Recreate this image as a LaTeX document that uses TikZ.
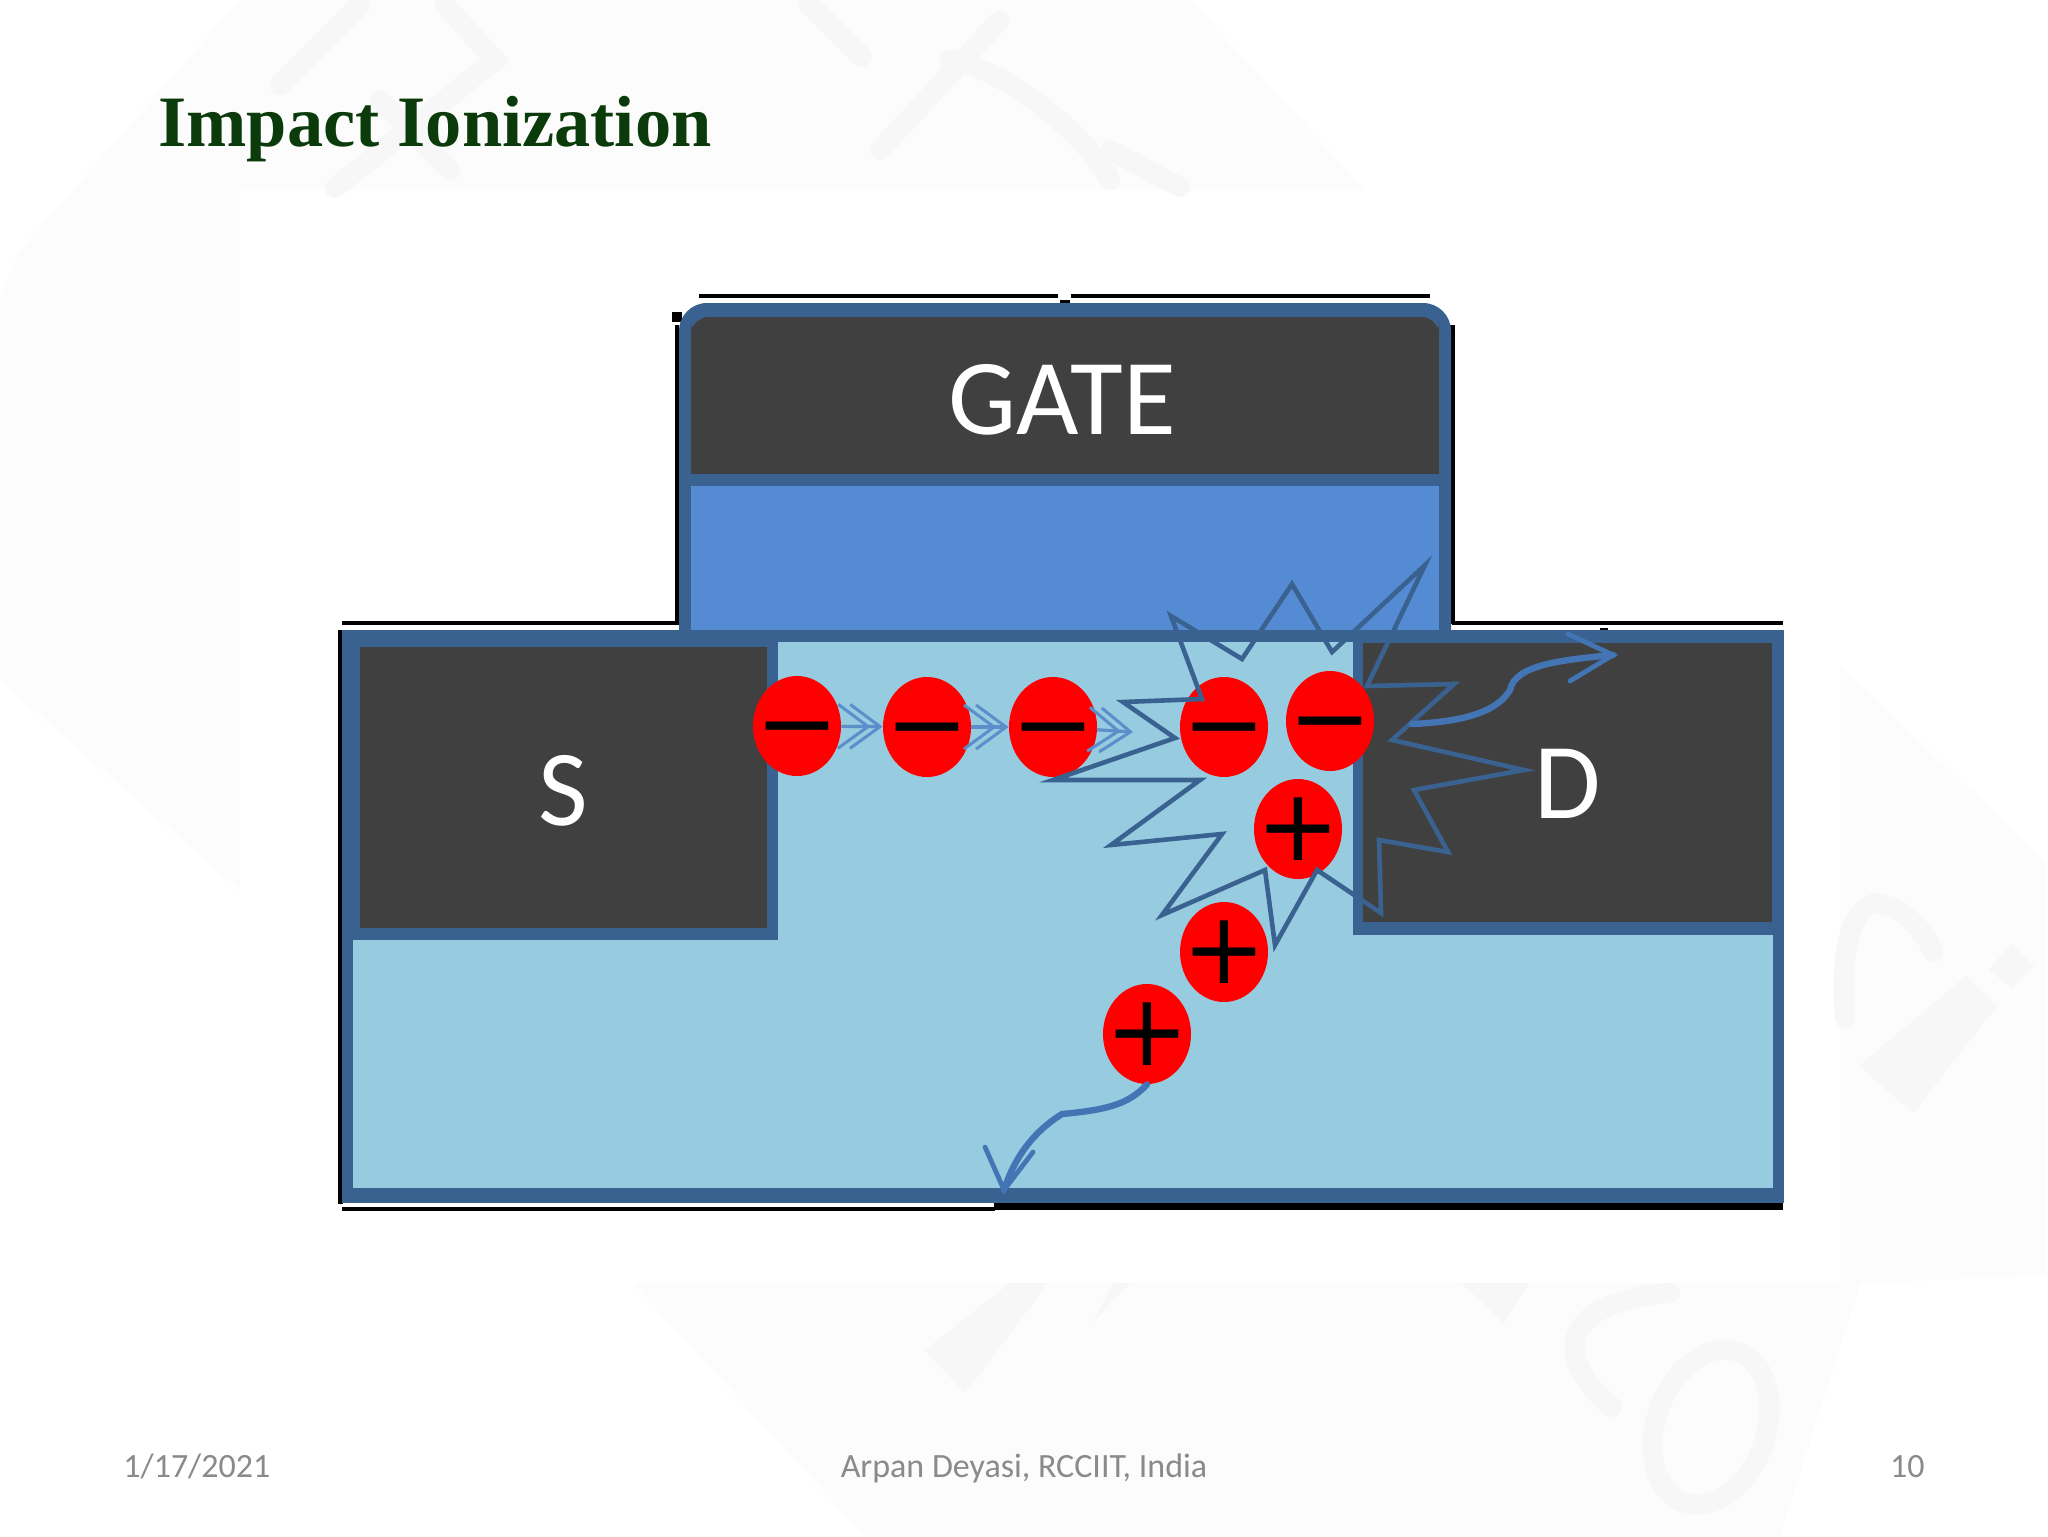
\documentclass[tikz,border=0pt]{standalone}
\usepackage{fontspec}
\usetikzlibrary{shapes.geometric,arrows.meta}
\setmainfont{Carlito}
\newfontfamily\titlefont{Liberation Serif}
\newfontfamily\signfont{DejaVu Sans}
\definecolor{edgeblue}{HTML}{3A6291}
\definecolor{darkfill}{HTML}{404040}
\definecolor{oxidefill}{HTML}{548BD3}
\definecolor{siliconfill}{HTML}{97CBDF}
\definecolor{arrowblue}{HTML}{4375B5}
\definecolor{chevblue}{HTML}{5B8FCB}
\definecolor{titlegreen}{HTML}{0B3A0B}
\definecolor{footgray}{HTML}{8A8A8A}
\definecolor{wmband}{HTML}{FDFCFD}
\definecolor{wmink}{HTML}{F7F7F7}
\newcommand{\chargesign}[1]{{\signfont\fontsize{50pt}{50pt}\selectfont\makebox[0pt]{\smash{\raisebox{-.3135em}{#1}}}}}
\tikzset{
  carrier/.style={ellipse,fill=red,draw=none,inner sep=0pt,minimum width=44pt,minimum height=50pt,text=black},
  regionlabel/.style={text=white,font=\fontsize{54pt}{54pt}\selectfont,inner sep=0pt,anchor=center},
  footer/.style={text=footgray,font=\fontsize{17pt}{17pt}\selectfont,inner sep=0pt},
  chev/.style={chevblue,line width=1.6pt,-{Straight Barb[length=15pt,width=22pt,line width=1.5pt,sep=-11pt] Straight Barb[length=15pt,width=22pt,line width=1.5pt]}},
  wavearrow/.style={arrowblue,line width=3.2pt,line cap=round},
  barb/.style={arrowblue,line width=2.4pt,line cap=round,line join=miter},
  wm/.style={wmink,line width=10pt,line cap=round},
  outline/.style={black,line width=2pt},
  burst/.style={edgeblue,line width=2.3pt,line join=miter}
}
\begin{document}
\begin{tikzpicture}[x=0.5pt,y=-0.5pt]
\useasboundingbox (0,0) rectangle (2048,1536);
\fill[white] (0,0) rectangle (2048,1536);
% watermark band
\fill[wmband] (240,0) -- (1190,0) -- (1365,190) -- (240,190) -- (18,253) -- cycle;
\fill[wmband] (18,253) -- (240,190) -- (240,890) -- (0,680) -- (0,300) -- cycle;
\fill[wmband] (633,1283) -- (1840,1283) -- (1840,665) -- (2046,863) -- (2046,1275) -- (1860,1283) -- (1780,1536) -- (865,1536) -- cycle;
% watermark strokes
\draw[wm] (280,85) -- (360,5);
\draw[wm] (335,188) -- (495,60) -- (445,5);
\draw[wm] (380,100) -- (450,170);
\draw[wm] (808,3) -- (862,57);
\draw[wm] (1000,20) -- (880,150);
\draw[wm] (950,60) .. controls (1010,70) and (1090,140) .. (1110,180);
\draw[wm] (1110,150) -- (1180,187);
\fill[wmink] (1859,1066) -- (1966,976) -- (1997,1006) -- (1913,1113) -- cycle;
\fill[wmink] (1989,970) -- (2011,943) -- (2034,966) -- (2012,988) -- cycle;
\draw[wm] (1845,1018) .. controls (1840,950) and (1850,910) .. (1876,903) .. controls (1900,905) and (1925,930) .. (1933,952);
\draw[wm] (1670,1293) .. controls (1570,1300) and (1545,1350) .. (1612,1407);
\draw[wm,rotate around={-20:(1711,1427)}] (1711,1427) ellipse [x radius=55,y radius=80];
\fill[wmink] (1048,1283) -- (1010,1283) -- (925,1350) -- (965,1393) -- cycle;
\fill[wmink] (1114,1283) -- (1130,1283) -- (1092,1323) -- cycle;
\fill[wmink] (1462,1283) -- (1504,1323) -- (1529,1283) -- cycle;
% black outline traces
\draw[outline] (342,623) -- (677,623) -- (677,325);
\draw[outline] (699,296) -- (1058,296);
\draw[outline] (1071,296) -- (1430,296);
\draw[black,line width=3pt] (1452,624) -- (1452,325);
\draw[outline] (1452,623) -- (1783,623);
\draw[black,line width=2.5pt] (340,630) -- (340,1204);
\draw[outline] (342,1209) -- (995,1209);
\draw[black,line width=4pt] (1004,1206) -- (1783,1206);
\fill[black] (672,312) rectangle (682,322);
\fill[black] (1060,300) rectangle (1070,310);
\fill[black] (1600,628) rectangle (1608,638);
\fill[black] (994,1198) rectangle (1004,1210);
% device body
\fill[edgeblue] (342,630) rectangle (1784,1203);
\fill[edgeblue,rounded corners=14pt] (679,303) rectangle (1451,660);
\fill[siliconfill] (353,640) rectangle (1773,1188);
\fill[edgeblue] (342,630) rectangle (1784,643);
\fill[edgeblue] (353,640) rectangle (778,940);
\fill[edgeblue] (1353,640) rectangle (1784,935);
\fill[siliconfill] (778,642) rectangle (1353,930);
\fill[darkfill,rounded corners=9pt] (691,340) -- (691,317) -- (1439,317) -- (1439,340) -- cycle;
\fill[darkfill] (691,330) rectangle (1439,474);
\fill[oxidefill] (691,486) rectangle (1439,630);
\fill[darkfill] (360,647) rectangle (767,928);
\fill[darkfill] (1363,643) rectangle (1772,922);
\node[regionlabel] (gate) at (1062,400) {GATE};
\node[regionlabel] (src) at (563,791) {S};
\node[regionlabel] (drn) at (1568,784) {D};
% carriers
\node[carrier] (e1) at (797,726) {\chargesign{−}};
\node[carrier] (e2) at (927,727) {\chargesign{−}};
\node[carrier] (e3) at (1053,727) {\chargesign{−}};
\node[carrier] (e4) at (1224,727) {\chargesign{−}};
\node[carrier] (e5) at (1330,721) {\chargesign{−}};
\node[carrier] (h1) at (1298,829) {\chargesign{+}};
\node[carrier] (h2) at (1224,952) {\chargesign{+}};
\node[carrier] (h3) at (1147,1034) {\chargesign{+}};
\coordinate (c3) at (1133,732);
\draw[chev] (e1) -- (e2);
\draw[chev] (e2) -- (e3);
\draw[chev] (e3) -- (c3);
% impact burst
\draw[burst] (1053,780) -- (1200,780) -- (1111,845) -- (1222,834) -- (1162,915) -- (1265,870)
  -- (1275,945) -- (1317,870) -- (1381,913) -- (1379,840) -- (1448,852) -- (1414,790)
  -- (1524,770) -- (1392,740) -- (1454,684) -- (1367,686) -- (1425,565) -- (1332,652)
  -- (1292,584) -- (1242,659) -- (1171,616) -- (1202,699) -- (1123,702) -- (1175,738) -- cycle;
% wavy exit arrows
\coordinate (dtip) at (1613,655);
\coordinate (btip) at (1004,1190);
\draw[wavearrow] (1412,724) .. controls (1455,722) and (1495,715) .. (1510,690)
  .. controls (1515,665) and (1560,660) .. (dtip);
\draw[barb] (1568,634) -- (dtip) -- (1570,681);
\draw[wavearrow] (h3.south) .. controls (1128,1105) and (1105,1110) .. (1062,1114)
  .. controls (1028,1135) and (1012,1165) .. (btip);
\draw[barb] (985,1147) -- (btip) -- (1033,1152);
% slide text
\node[anchor=base west,inner sep=0pt,text=titlegreen,font=\titlefont\bfseries\fontsize{36.2pt}{36.2pt}\selectfont] (title) at (158,146) {Impact Ionization};
\node[footer,anchor=base west] (fdate) at (123,1477) {1/17/2021};
\node[footer,anchor=base] (fname) at (1024,1477) {Arpan Deyasi, RCCIIT, India};
\node[footer,anchor=base east] (fnum) at (1925,1477) {10};
\end{tikzpicture}
\end{document}
